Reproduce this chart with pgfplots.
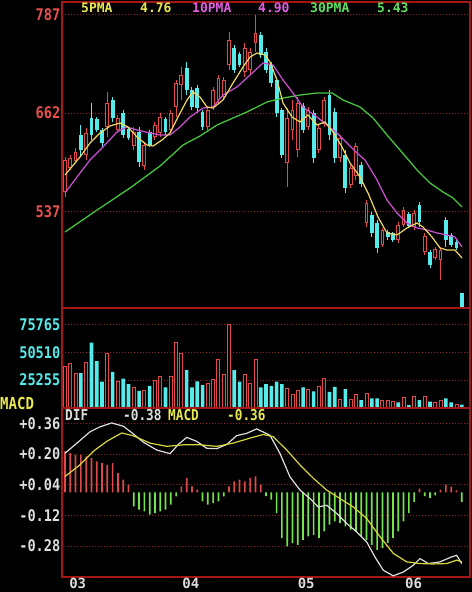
\documentclass[border=0pt]{standalone}
\usepackage{pgfplots}
\usepackage{pgfplotstable}
\pgfplotsset{compat=1.18}
\usepackage{fontspec}
\newfontfamily\sfont{DejaVu Sans Mono}[FakeStretch=0.85]
\newfontfamily\nfont{DejaVu Sans Mono}
\newcommand\fs[1]{\fontsize{#1bp}{#1bp}\selectfont\bfseries}

\definecolor{bord}{RGB}{165,22,22}
\definecolor{grd}{RGB}{150,28,28}
\definecolor{cred}{RGB}{228,72,72}
\definecolor{tred}{RGB}{235,80,80}
\definecolor{ccyan}{RGB}{85,235,235}
\definecolor{ma5}{RGB}{240,215,95}
\definecolor{ma10}{RGB}{205,80,215}
\definecolor{ma30}{RGB}{70,195,60}
\definecolor{lyel}{RGB}{232,232,80}
\definecolor{lmag}{RGB}{225,95,225}
\definecolor{lgrn}{RGB}{95,225,95}
\definecolor{lgray}{RGB}{222,222,222}
\definecolor{dea}{RGB}{215,215,60}
\definecolor{hgreen}{RGB}{115,228,75}
\definecolor{hred}{RGB}{218,75,75}

% candles: index, open, high, low, close
\pgfplotstableread{
i o h l c
0 561.7 606.2 555.4 602.4
1 592.2 608.7 589.7 604.9
2 601.1 617.6 598.6 612.5
4 608.7 643.0 602.4 636.6
8 644.2 688.6 631.5 674.7
10 640.4 659.5 637.9 655.7
13 620.1 644.2 615.0 637.9
15 594.7 625.2 589.7 621.4
17 631.5 650.6 627.7 646.8
18 636.6 662.0 631.5 656.9
20 640.4 665.8 636.6 662.0
21 669.6 703.9 656.9 700.1
22 697.5 720.4 678.5 710.2
27 644.2 669.6 640.4 665.8
28 669.6 695.0 665.8 691.2
29 678.5 710.2 674.7 706.4
30 682.3 707.7 678.5 703.9
31 722.9 764.8 716.6 754.6
34 714.0 750.8 707.7 744.5
35 716.6 744.5 710.2 739.4
36 750.8 786.4 739.4 763.5
42 598.6 668.3 568.1 655.7
43 640.4 678.5 627.7 665.8
44 615.0 682.3 606.2 674.7
46 644.2 669.6 640.4 665.8
48 615.0 646.8 611.2 643.0
49 648.0 682.3 644.2 678.5
52 604.9 634.1 599.8 630.3
54 570.6 596.0 566.8 592.2
55 582.1 623.9 577.0 620.1
57 522.4 551.6 517.3 547.8
60 494.5 516.0 492.0 513.5
63 500.8 523.7 497.0 519.9
64 519.9 542.7 517.3 538.9
66 517.3 538.9 513.5 535.1
68 485.6 509.7 481.8 505.9
70 478.0 492.0 475.5 489.4
71 475.5 492.0 450.1 488.1
}\upc

\pgfplotstableread{
i o h l c
3 634.1 646.8 606.2 615.0
5 655.7 674.7 627.7 634.1
6 654.4 656.9 637.9 640.4
7 640.4 643.0 618.9 623.9
9 678.5 682.3 650.6 655.7
11 662.0 665.8 630.3 634.1
12 641.7 644.2 627.7 630.3
14 637.9 644.2 593.5 599.8
16 637.9 640.4 618.9 621.4
19 654.4 656.9 634.1 637.9
23 719.1 726.7 684.8 691.2
24 691.2 695.0 665.8 669.6
25 693.7 697.5 662.0 668.3
26 663.3 665.8 640.4 644.2
32 744.5 748.3 712.8 716.6
33 736.9 739.4 720.4 722.9
37 761.0 764.8 731.8 735.6
38 739.4 744.5 712.8 716.6
39 722.9 726.7 695.0 700.1
40 703.9 707.7 656.9 662.0
41 665.8 668.3 604.9 608.7
45 670.9 674.7 636.6 640.4
47 662.0 665.8 598.6 604.9
50 684.8 691.2 627.7 634.1
51 663.3 668.3 598.6 604.9
53 608.7 615.0 560.5 566.8
56 596.0 599.8 568.1 571.9
58 532.6 536.4 504.6 509.7
59 522.4 526.2 484.3 490.7
61 511.0 513.5 500.8 504.6
62 509.7 511.0 498.3 500.8
65 533.8 536.4 516.0 518.6
67 545.2 549.0 517.3 523.7
69 485.6 488.1 465.3 469.1
72 526.2 530.0 492.0 500.8
73 507.2 509.7 492.0 494.5
74 498.3 500.8 488.1 490.7
75 433.6 433.6 416.0 416.0
}\dnc

\pgfplotsset{
  panel/.style={scale only axis, width=408bp, xmin=-0.57, xmax=76.56, anchor=south west,
    axis line style={draw=bord, line width=1.4bp},
    ymajorgrids, grid style={draw=grd, line width=1bp, dash pattern=on 1bp off 2bp},
    major tick length=0pt, xtick=\empty, scaled y ticks=false,
    yticklabel style={font=\sfont\fs{16}, inner sep=1.5bp}},
  wick/.style={draw=none, mark=none, forget plot,
    error bars/.cd, y dir=both, y explicit, error mark=none,
    error bar style={solid, draw=#1, line width=1bp}},
  body/.style 2 args={draw=none, mark=none, forget plot,
    error bars/.cd, y dir=both, y explicit, error mark=none,
    error bar style={solid, draw=#1, line width=#2}},
}

\begin{document}
\begin{tikzpicture}
\fill[black] (0,0) rectangle (472bp,592bp);

% ---------------- price panel ----------------
\begin{axis}[panel, at={(62bp,284bp)}, height=306bp, ymin=414.5, ymax=802.9,
  ytick={537,662,787}, yticklabels={537,662,787}, yticklabel style={text=tred}]
\addplot[wick=cred] table[x=i, y expr={(\thisrow{h}+\thisrow{l})/2}, y error expr={(\thisrow{h}-\thisrow{l})/2}] {\upc};
\addplot[wick=ccyan] table[x=i, y expr={(\thisrow{h}+\thisrow{l})/2}, y error expr={(\thisrow{h}-\thisrow{l})/2}] {\dnc};
\addplot[body={cred}{3.8bp}] table[x=i, y expr={(\thisrow{o}+\thisrow{c})/2}, y error expr={(\thisrow{c}-\thisrow{o})/2}] {\upc};
\addplot[body={black}{1.8bp}] table[x=i, y expr={(\thisrow{o}+\thisrow{c})/2}, y error expr={max((\thisrow{c}-\thisrow{o})/2-1.3,0)}] {\upc};
\addplot[body={ccyan}{3.8bp}] table[x=i, y expr={(\thisrow{o}+\thisrow{c})/2}, y error expr={(\thisrow{o}-\thisrow{c})/2}] {\dnc};
% 30-day MA
\addplot[ma30, line width=1.3bp, mark=none] coordinates {
(0,511.0) (6.62,541.4) (12.29,566.8) (17.96,594.7) (22.31,621.4) (25.52,632.8) (28.73,646.8) (34.40,663.3) (38.19,676.0) (41.21,681.0) (44.42,684.8) (47.64,687.4) (50.47,687.4) (52.55,678.5) (55.77,669.6) (58.22,655.7) (60.87,634.1) (63.33,615.0) (66.54,589.7) (69.00,573.2) (71.46,561.7) (73.35,554.1) (75.05,542.7)};
% 10-day MA
\addplot[ma10, line width=1.2bp, mark=none] coordinates {
(0,560.5) (2.27,580.8) (4.73,602.4) (7.18,618.9) (9.83,637.9) (11.72,644.2) (13.61,640.4) (16.07,636.6) (17.96,634.1) (19.85,634.1) (21.74,644.2) (23.63,656.9) (26.09,668.3) (27.98,669.6) (29.87,684.8) (32.51,695.0) (34.97,710.2) (37.43,725.5) (39.32,722.9) (41.21,703.9) (43.10,687.4) (44.99,669.6) (47.64,656.9) (49.53,646.8) (51.42,636.6) (53.31,623.9) (55.20,611.2) (56.71,602.4) (58.98,577.0) (60.87,551.6) (62.76,535.1) (64.65,522.4) (66.54,516.1) (68.43,513.5) (70.32,509.7) (72.21,507.2) (73.72,504.6) (75.05,491.9)};
% 5-day MA
\addplot[ma5, line width=1.2bp, mark=none] coordinates {
(0,583.3) (2.84,606.2) (4.73,623.9) (6.62,636.6) (8.51,645.5) (10.40,649.3) (11.91,644.2) (13.61,631.5) (15.50,621.4) (16.64,620.1) (18.34,627.7) (19.85,636.6) (21.36,656.9) (23.06,678.5) (24.20,688.6) (25.52,682.3) (26.84,669.6) (27.98,668.3) (29.87,678.5) (31.76,700.1) (33.65,720.4) (34.97,733.1) (36.29,738.1) (37.81,735.6) (38.75,726.7) (40.08,703.9) (41.21,674.7) (42.91,656.9) (44.42,650.6) (45.94,659.5) (47.64,646.8) (49.15,650.6) (50.66,637.9) (52.36,618.9) (53.88,598.6) (55.77,580.8) (57.28,560.5) (59.17,530.0) (60.87,509.7) (62.76,507.2) (64.65,516.1) (66.54,522.4) (67.67,517.3) (69.38,504.6) (70.89,490.7) (72.21,488.1) (73.72,488.1) (75.05,478.0)};
\end{axis}

% ---------------- volume panel ----------------
\begin{axis}[panel, at={(62bp,184bp)}, height=100bp, ymin=0, ymax=90500,
  ytick={25255,50510,75765}, yticklabels={25255,50510,75765}, yticklabel style={text=ccyan}]
\addplot[ybar, bar width=3.0bp, bar shift=0pt, draw=cred, line width=0.9bp, fill=black] coordinates {
(0,37600)(1,40300)(2,31300)(4,41200)(8,49300)(10,23800)(13,18600)(15,16200)(17,24700)(18,28300)(20,28300)(21,59200)(22,49300)(27,22600)(28,26200)(29,44200)(30,30100)(31,75200)(34,30100)(35,22600)(36,44200)(42,18000)(43,12600)(44,15600)(46,17100)(48,19200)(49,26800)(52,8100)(54,8100)(55,12600)(57,13200)(60,7200)(61,7200)(62,5700)(64,9600)(66,10200)(68,10800)(70,5100)(71,6600)(74,3000)};
\addplot[ybar, bar width=3.6bp, bar shift=0pt, draw=none, fill=ccyan] coordinates {
(3,31600)(5,59200)(6,42400)(7,23800)(9,32800)(11,26500)(12,21700)(14,15600)(16,20100)(19,18600)(23,34300)(24,18600)(25,24100)(26,20700)(32,34300)(33,23800)(37,18600)(38,21700)(39,20100)(40,23800)(41,21700)(45,18600)(47,15000)(50,14700)(51,19200)(53,17100)(56,7200)(58,8700)(59,8700)(63,5100)(65,2700)(67,7200)(69,5700)(72,8700)(73,5100)(75,3000)};
\end{axis}

% ---------------- MACD panel ----------------
\begin{axis}[panel, at={(62bp,15bp)}, height=169bp, ymin=-0.441, ymax=0.44,
  ytick={-0.28,-0.12,0.04,0.20,0.36}, yticklabels={-0.28,-0.12,+0.04,+0.20,+0.36}, yticklabel style={text=lgray},
  xtick={2.4,23.8,45.6,65.9}, xticklabels={03,04,05,06},
  xticklabel style={font=\nfont\fs{14}, text=lgray, inner sep=0.5bp}]
\addplot[ybar, bar width=1.7bp, bar shift=0pt, draw=none, fill=hred] coordinates {
(0,0.214)(1,0.205)(2,0.196)(3,0.196)(4,0.188)(5,0.179)(6,0.162)(7,0.153)(8,0.144)(9,0.153)(10,0.101)(11,0.066)(12,0.040)
(22,0.031)(23,0.075)(24,0.031)(25,0.014)
(31,0.031)(32,0.057)(33,0.066)(34,0.057)(35,0.075)(36,0.083)(37,0.040)
(67,0.020)(71,0.015)(72,0.040)(73,0.030)(74,0.010)};
\addplot[ybar, bar width=1.7bp, bar shift=0pt, draw=none, fill=hgreen] coordinates {
(13,-0.073)(14,-0.090)(15,-0.099)(16,-0.116)(17,-0.108)(18,-0.099)(19,-0.090)(20,-0.064)(21,-0.021)
(26,-0.047)(27,-0.064)(28,-0.056)(29,-0.047)(30,-0.021)
(38,-0.020)(39,-0.038)(40,-0.108)(41,-0.238)(42,-0.281)(43,-0.264)(44,-0.273)(45,-0.247)(46,-0.229)(47,-0.221)(48,-0.238)(49,-0.203)(50,-0.168)(51,-0.151)(52,-0.160)(53,-0.177)(54,-0.194)(55,-0.203)(56,-0.229)(57,-0.247)(58,-0.273)(59,-0.299)(60,-0.290)(61,-0.264)(62,-0.238)(63,-0.203)(64,-0.151)(65,-0.108)(66,-0.050)
(68,-0.020)(69,-0.030)(70,-0.015)(75,-0.050)};
% DIF
\addplot[lgray, line width=1.2bp, mark=none] coordinates {
(0,0.204)(2.21,0.256)(4.73,0.316)(6.62,0.342)(8.83,0.362)(11.02,0.345)(12.91,0.305)(14.80,0.262)(17.33,0.221)(19.85,0.202)(21.42,0.250)(23.01,0.287)(24.90,0.266)(26.79,0.230)(28.68,0.228)(30.57,0.250)(32.46,0.296)(34.35,0.308)(36.24,0.331)(38.75,0.298)(40.64,0.203)(42.53,0.081)(44.42,0.012)(46.31,-0.032)(47.88,-0.076)(49.47,-0.067)(51.36,-0.110)(53.25,-0.162)(55.14,-0.206)(57.03,-0.258)(58.60,-0.337)(60.17,-0.406)(62.06,-0.435)(63.95,-0.415)(65.84,-0.380)(67.11,-0.345)(68.68,-0.371)(70.89,-0.362)(73.10,-0.336)(74.05,-0.328)(75.0,-0.371)};
% MACD (DEA)
\addplot[dea, line width=1.2bp, mark=none] coordinates {
(0,0.083)(2.84,0.144)(5.35,0.214)(7.88,0.266)(10.72,0.310)(12.91,0.295)(16.07,0.257)(19.22,0.240)(22.36,0.248)(25.52,0.248)(28.68,0.240)(31.81,0.257)(34.97,0.283)(37.49,0.302)(39.38,0.290)(41.91,0.221)(44.42,0.143)(46.94,0.074)(49.47,0.012)(51.98,-0.032)(54.50,-0.076)(57.03,-0.136)(59.55,-0.231)(62.06,-0.318)(64.59,-0.362)(67.11,-0.371)(69.62,-0.373)(72.15,-0.371)(74.05,-0.353)(75.0,-0.362)};
\end{axis}

% ---------------- header texts ----------------
\begin{scope}[every node/.style={anchor=west, inner sep=0pt}]
\node[text=lyel, font=\nfont\fs{13}] at (81bp,584bp) {5PMA};
\node[text=lyel, font=\nfont\fs{13}] at (140bp,584bp) {4.76};
\node[text=lmag, font=\nfont\fs{13}] at (192bp,584bp) {10PMA};
\node[text=lmag, font=\nfont\fs{13}] at (258bp,584bp) {4.90};
\node[text=lgrn, font=\nfont\fs{13}] at (310bp,584bp) {30PMA};
\node[text=lgrn, font=\nfont\fs{13}] at (377bp,584bp) {5.43};
\node[text=lyel, font=\sfont\fs{16.5}] at (0bp,188.5bp) {MACD};
\node[text=lgray, font=\sfont\fs{15}] at (65bp,177bp) {DIF};
\node[text=lgray, font=\sfont\fs{15}] at (123bp,177bp) {-0.38};
\node[text=lyel, font=\sfont\fs{15}] at (168bp,177bp) {MACD};
\node[text=lyel, font=\sfont\fs{15}] at (227bp,177bp) {-0.36};
\end{scope}
\end{tikzpicture}
\end{document}
